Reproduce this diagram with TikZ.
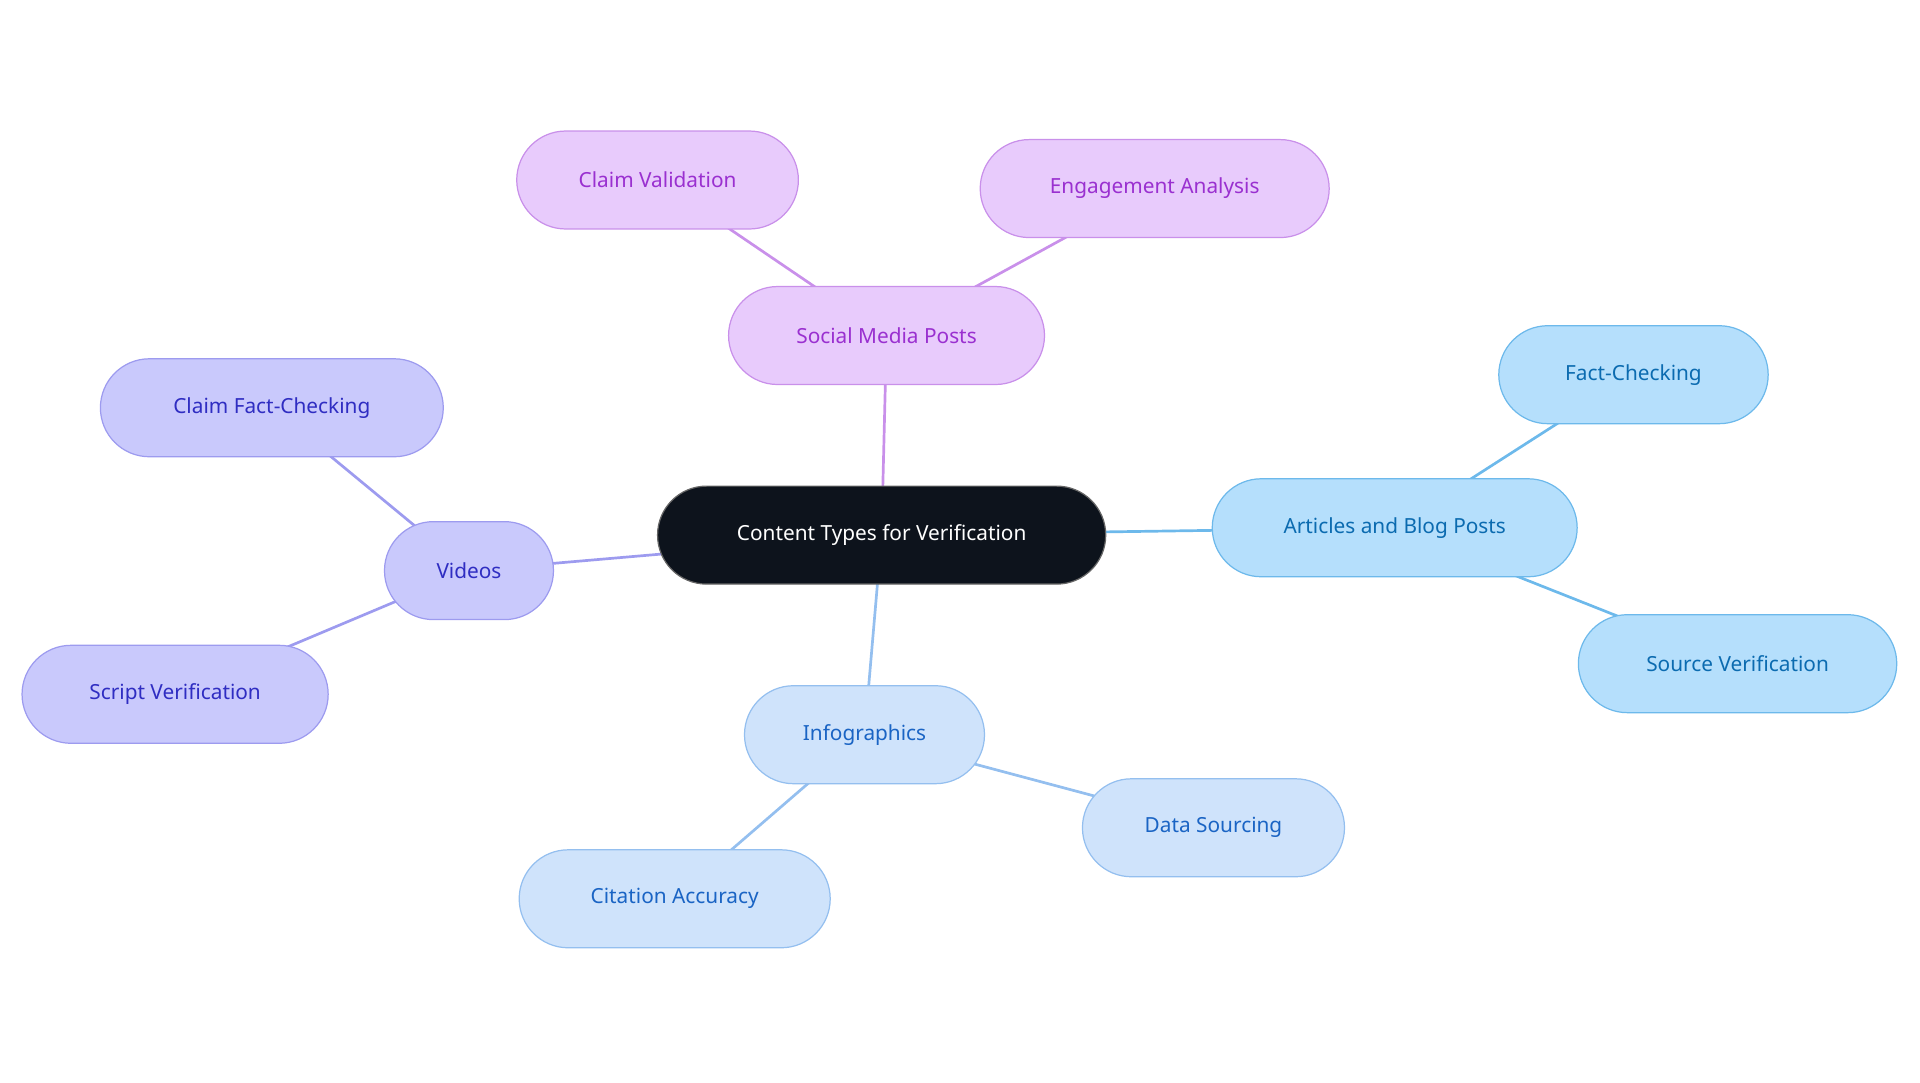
\documentclass[tikz,border=0pt]{standalone}
\usepackage{fontspec}
\setmainfont{Noto Sans}
\usetikzlibrary{backgrounds}
\definecolor{pf}{HTML}{E8CBFC}\definecolor{pd}{HTML}{C990EA}\definecolor{pt}{HTML}{9A30D0}
\definecolor{bf}{HTML}{B5DFFC}\definecolor{bd}{HTML}{6DB9EB}\definecolor{bt}{HTML}{0B6BB0}
\definecolor{lf}{HTML}{CFE3FB}\definecolor{ld}{HTML}{94BFEF}\definecolor{lt}{HTML}{1A64C4}
\definecolor{vf}{HTML}{C9C9FC}\definecolor{vd}{HTML}{9D9BEF}\definecolor{vt}{HTML}{2F2DC2}
\definecolor{cf}{HTML}{0D131C}
\tikzset{x=1pt,y=-1pt,
 box/.style={rounded corners=40pt,minimum height=80pt,line width=1pt,inner sep=0pt,font=\fontsize{17}{20}\selectfont},
 pur/.style={box,fill=pf,draw=pd,text=pt},
 blu/.style={box,fill=bf,draw=bd,text=bt},
 lbl/.style={box,fill=lf,draw=ld,text=lt},
 vio/.style={box,fill=vf,draw=vd,text=vt},
 ed/.style={line width=2.2pt}}
\begin{document}
\begin{tikzpicture}
\useasboundingbox (0,0) rectangle (1568,884);
\node[box,fill=cf,draw=black!60,text=white,minimum width=366pt] (c) at (720,437) {Content Types for Verification};
\node[pur,minimum width=258pt] (s) at (724,274) {Social Media Posts};
\node[pur,minimum width=230pt] (s1) at (537,147) {Claim Validation};
\node[pur,minimum width=285pt] (s2) at (943,154) {Engagement Analysis};
\node[blu,minimum width=298pt] (a) at (1139,431) {Articles and Blog Posts};
\node[blu,minimum width=220pt] (a1) at (1334,306) {Fact-Checking};
\node[blu,minimum width=260pt] (a2) at (1419,542) {Source Verification};
\node[lbl,minimum width=196pt] (i) at (706,600) {Infographics};
\node[lbl,minimum width=214pt] (i1) at (991,676) {Data Sourcing};
\node[lbl,minimum width=254pt] (i2) at (551,734) {Citation Accuracy};
\node[vio,minimum width=138pt] (v) at (383,466) {Videos};
\node[vio,minimum width=280pt] (v1) at (222,333) {Claim Fact-Checking};
\node[vio,minimum width=250pt] (v2) at (143,567) {Script Verification};
\begin{scope}[on background layer]
\draw[ed,pd] (c.center)--(s.center) (s.center)--(s1.center) (s.center)--(s2.center);
\draw[ed,bd] (c.center)--(a.center) (a.center)--(a1.center) (a.center)--(a2.center);
\draw[ed,ld] (c.center)--(i.center) (i.center)--(i1.center) (i.center)--(i2.center);
\draw[ed,vd] (c.center)--(v.center) (v.center)--(v1.center) (v.center)--(v2.center);
\end{scope}
\end{tikzpicture}
\end{document}
